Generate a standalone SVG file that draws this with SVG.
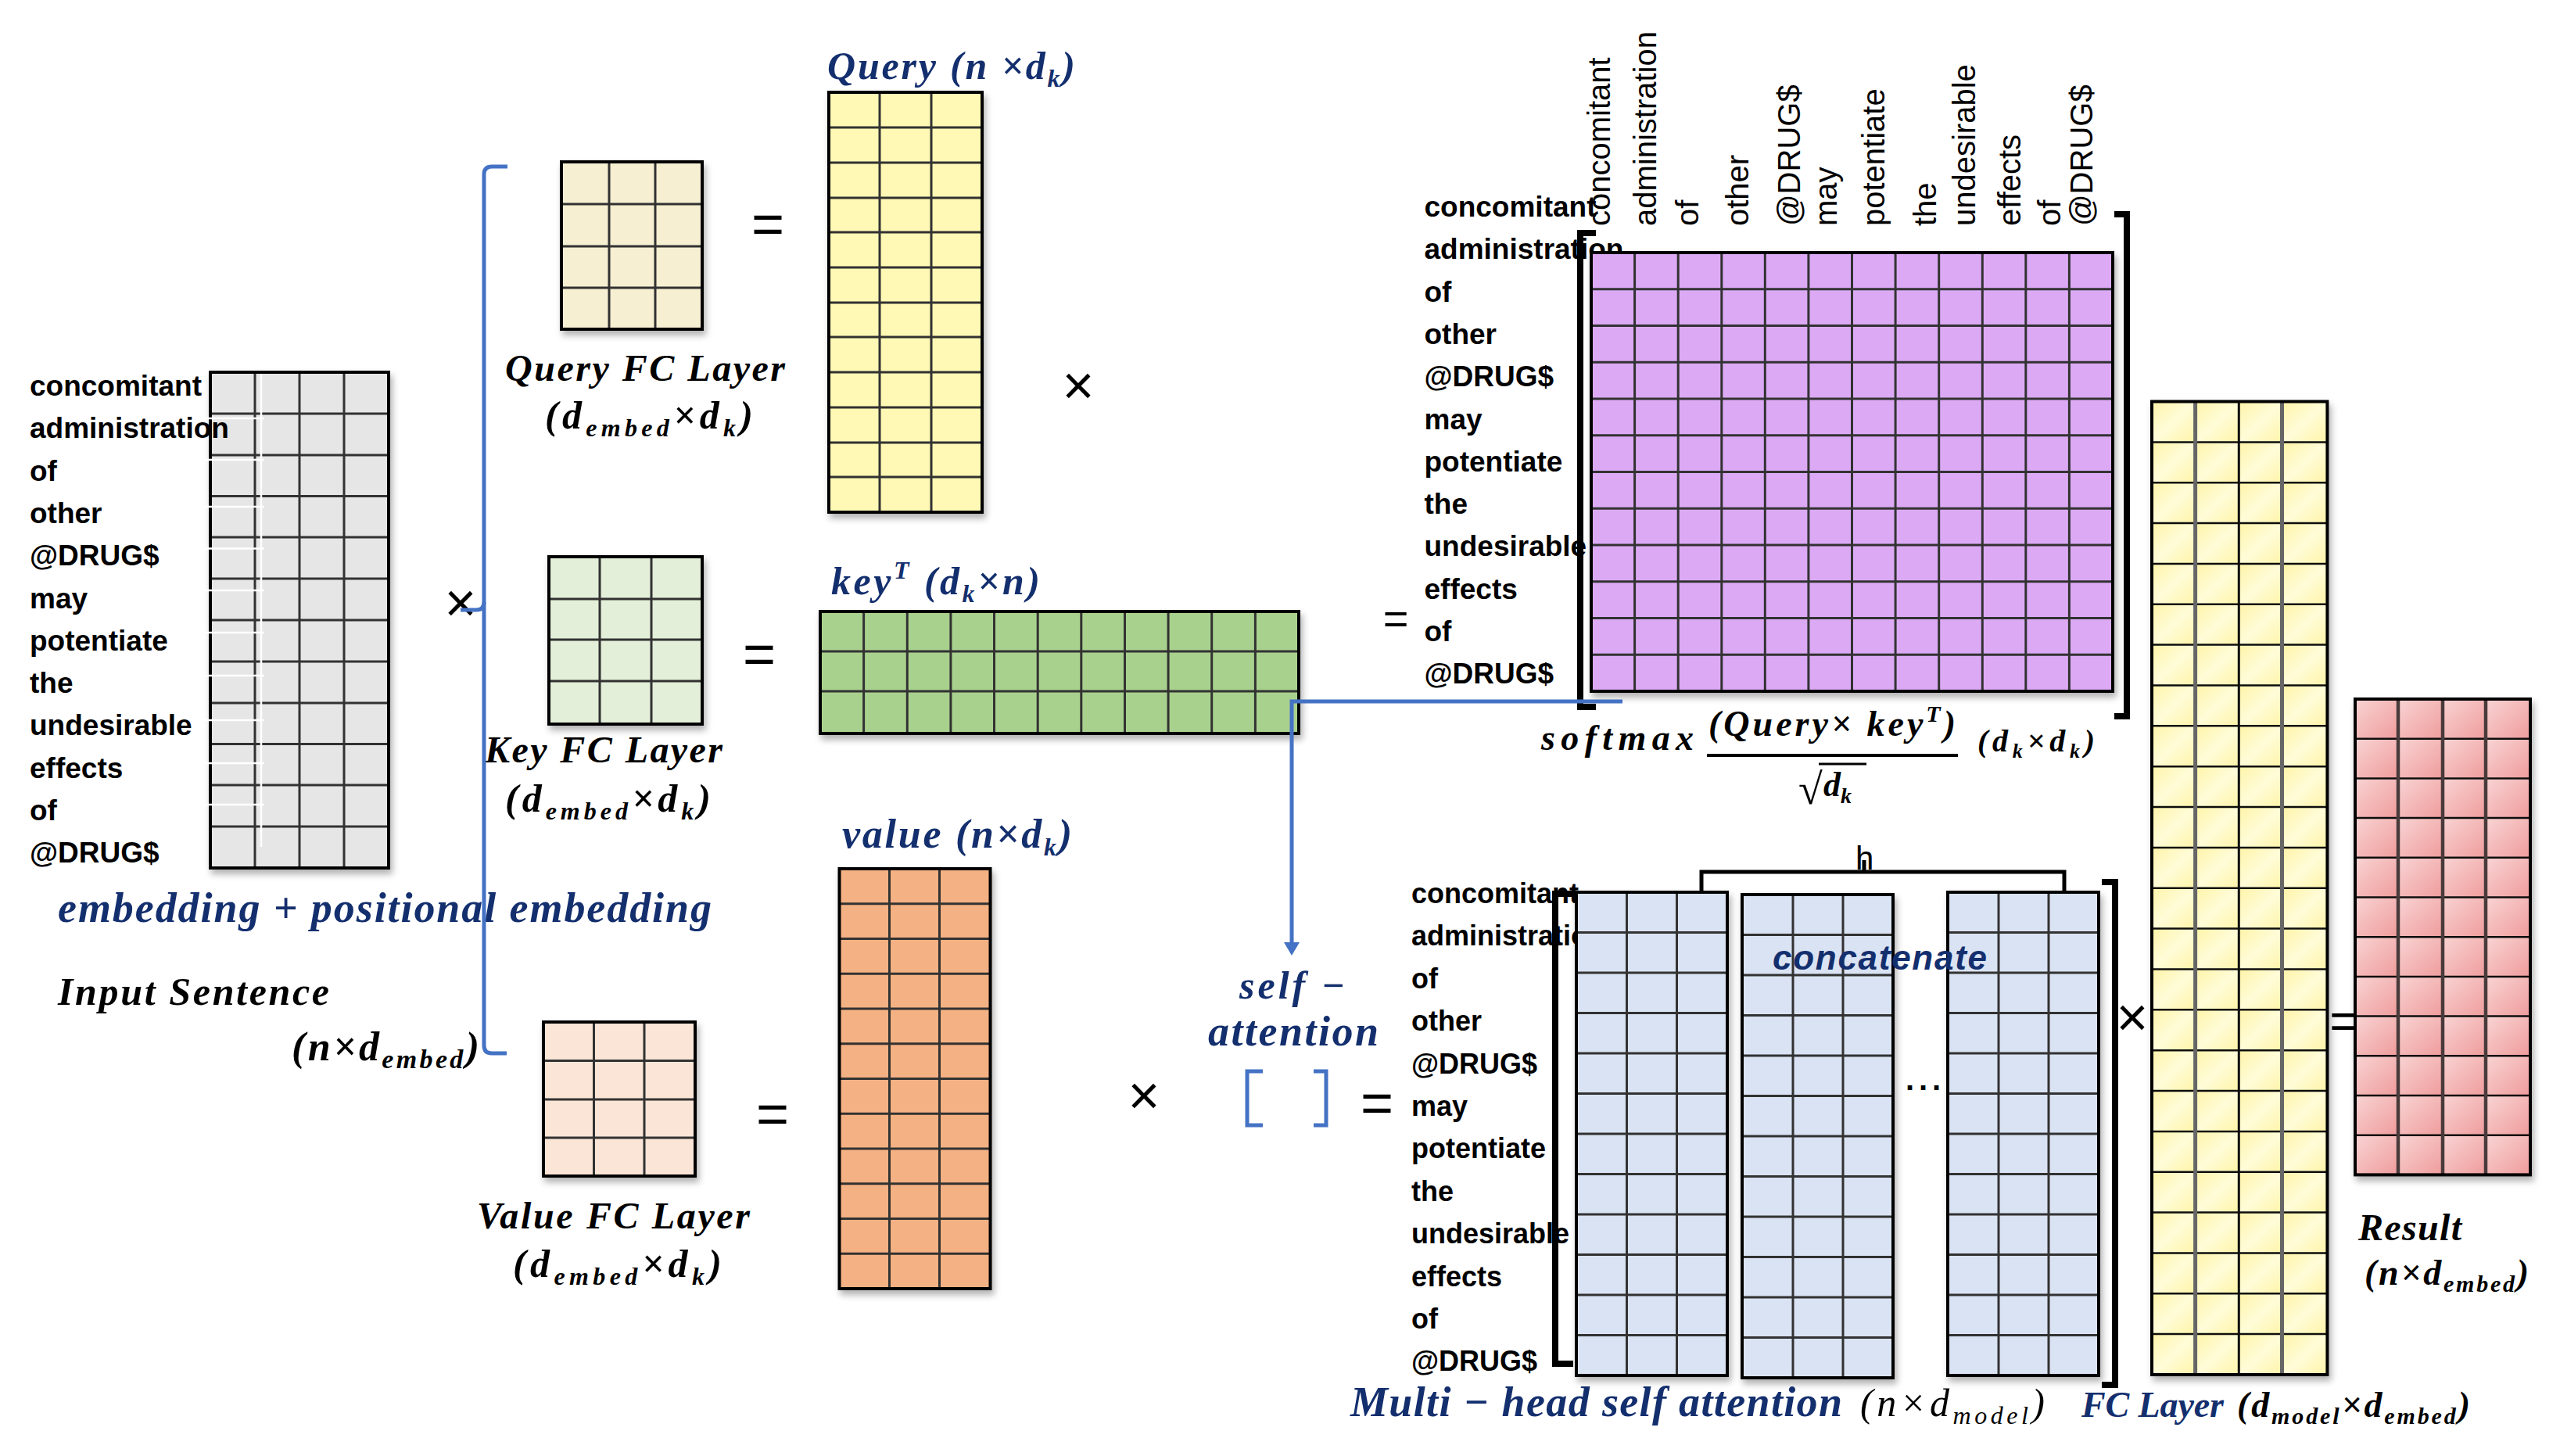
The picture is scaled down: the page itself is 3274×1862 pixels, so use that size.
<svg xmlns="http://www.w3.org/2000/svg" width="3274" height="1862" viewBox="0 0 3274 1862">
<defs>
<filter id="sh" x="-10%" y="-10%" width="130%" height="130%"><feDropShadow dx="3" dy="6" stdDeviation="4" flood-color="#000" flood-opacity="0.3"/></filter>
<marker id="arr" viewBox="0 0 17 20" markerWidth="17" markerHeight="20" refX="0" refY="10" orient="auto" markerUnits="userSpaceOnUse"><path d="M0,0 L17,10 L0,20 z" fill="#4472c4"/></marker>
<linearGradient id="pinkg" x1="0" y1="0" x2="1" y2="1"><stop offset="0" stop-color="#f9d3d3"/><stop offset="1" stop-color="#ef9c9c"/></linearGradient>
<pattern id="pinkp" patternUnits="userSpaceOnUse" x="3012" y="894" width="56" height="50.7"><rect width="56" height="50.7" fill="url(#pinkg)"/></pattern>
<linearGradient id="yelg" x1="0" y1="0" x2="1" y2="1"><stop offset="0" stop-color="#fff4a8"/><stop offset="0.5" stop-color="#fffcd8"/><stop offset="1" stop-color="#fff4a8"/></linearGradient>
<pattern id="yelp" patternUnits="userSpaceOnUse" x="2752" y="513.5" width="56" height="51.85"><rect width="56" height="51.85" fill="url(#yelg)"/></pattern>
</defs>
<style>
.w{font-family:"Liberation Sans",Arial,sans-serif;font-weight:bold;font-size:37px;fill:#000}
.wm{font-family:"Liberation Sans",Arial,sans-serif;font-weight:bold;font-size:36px;fill:#000}
.cl{font-family:"Liberation Sans",Arial,sans-serif;font-size:40px;fill:#000}
.m{font-family:"Liberation Serif","Times New Roman",serif;font-weight:bold;font-style:italic;fill:#000}
.mr{font-family:"Liberation Serif","Times New Roman",serif;font-style:italic;fill:#000}
.nv{fill:#142f6e}
.op{font-family:"Liberation Sans",Arial,sans-serif;text-anchor:middle;fill:#000}
.g{fill:none;stroke:#333;stroke-width:3}
.b{fill:none;stroke:#000;stroke-width:4}
.blue{fill:none;stroke:#4472c4;stroke-width:5}
.blk{fill:none;stroke:#000;stroke-width:8}
.wl{fill:none;stroke:#fff;stroke-width:2.5}
</style>
<rect width="3274" height="1862" fill="#fff"/>

<!-- Input sentence embedding matrix -->
<g id="input-matrix">
<g filter="url(#sh)">
<rect x="269" y="476" width="228" height="634" fill="#e6e6e6"/>
<path class="g" d="M326,476V1110M383,476V1110M440,476V1110M269,529H497M269,582H497M269,634.5H497M269,687H497M269,740H497M269,793H497M269,846H497M269,899H497M269,951.5H497M269,1004H497M269,1057H497"/>
<rect class="b" x="269" y="476" width="228" height="634"/>
</g>
<path class="wl" d="M261,535H338M261,588H338M261,648H338M261,701.5H338M261,755H338M261,809H338M261,864H338M261,921H338M261,976H338M261,1029H338M334,478V1083"/>
<g class="w">
<text x="38" y="506">concomitant</text>
<text x="38" y="560.3">administration</text>
<text x="38" y="614.6">of</text>
<text x="38" y="668.9">other</text>
<text x="38" y="723.2">@DRUG$</text>
<text x="38" y="777.5">may</text>
<text x="38" y="831.8">potentiate</text>
<text x="38" y="886.1">the</text>
<text x="38" y="940.4">undesirable</text>
<text x="38" y="994.7">effects</text>
<text x="38" y="1049">of</text>
<text x="38" y="1103.3">@DRUG$</text>
</g>
<text class="m nv" x="74" y="1179" font-size="54" textLength="836" lengthAdjust="spacing">embedding + positional embedding</text>
<text class="m" x="74" y="1285" font-size="50" textLength="347" lengthAdjust="spacing">Input Sentence</text>
<text class="m" x="373" y="1356" font-size="52" textLength="240" lengthAdjust="spacing">(n×d<tspan font-size="34" dy="10">embed</tspan><tspan dy="-10">)</tspan></text>
</g>

<!-- Query FC layer -->
<g id="query-fc">
<g filter="url(#sh)">
<rect x="718" y="207" width="180" height="214" fill="#f6efd2"/>
<path class="g" d="M779,207V421M838,207V421M718,261H898M718,315H898M718,368H898"/>
<rect class="b" x="718" y="207" width="180" height="214"/>
</g>
<text class="m" x="646" y="487" font-size="48" textLength="358" lengthAdjust="spacing">Query FC Layer</text>
<text class="m" x="697" y="548" font-size="50" textLength="266" lengthAdjust="spacing">(d<tspan font-size="32" dy="10">embed</tspan><tspan dy="-10">×d</tspan><tspan font-size="32" dy="10">k</tspan><tspan dy="-10">)</tspan></text>
</g>

<!-- Query matrix -->
<g id="query">
<g filter="url(#sh)">
<rect x="1060" y="118" width="196" height="537" fill="#fff9b5"/>
<path class="g" d="M1125,118V655M1191,118V655M1060,163H1256M1060,208H1256M1060,253H1256M1060,297H1256M1060,342H1256M1060,387H1256M1060,431H1256M1060,476H1256M1060,521H1256M1060,566H1256M1060,610H1256"/>
<rect class="b" x="1060" y="118" width="196" height="537"/>
</g>
<text class="m nv" x="1058" y="101" font-size="50" textLength="317" lengthAdjust="spacing">Query (n ×d<tspan font-size="32" dy="10">k</tspan><tspan dy="-10">)</tspan></text>
</g>

<!-- Key FC layer -->
<g id="key-fc">
<g filter="url(#sh)">
<rect x="702" y="712" width="196" height="214" fill="#e3efd9"/>
<path class="g" d="M767,712V926M833,712V926M702,766H898M702,818H898M702,871H898"/>
<rect class="b" x="702" y="712" width="196" height="214"/>
</g>
<text class="m" x="620" y="975" font-size="48" textLength="304" lengthAdjust="spacing">Key FC Layer</text>
<text class="m" x="646" y="1038" font-size="50" textLength="263" lengthAdjust="spacing">(d<tspan font-size="32" dy="10">embed</tspan><tspan dy="-10">×d</tspan><tspan font-size="32" dy="10">k</tspan><tspan dy="-10">)</tspan></text>
</g>

<!-- Key transposed -->
<g id="key-t">
<g filter="url(#sh)">
<rect x="1049" y="782" width="612" height="156" fill="#a9d18e"/>
<path class="g" d="M1104.6,782V938M1160.3,782V938M1215.9,782V938M1271.5,782V938M1327.2,782V938M1382.8,782V938M1438.5,782V938M1494.1,782V938M1549.7,782V938M1605.4,782V938M1049,833H1661M1049,884H1661"/>
<rect class="b" x="1049" y="782" width="612" height="156"/>
</g>
<text class="m nv" x="1063" y="760" font-size="50" textLength="267" lengthAdjust="spacing">key<tspan font-size="32" dy="-20">T</tspan><tspan dy="20"> (d</tspan><tspan font-size="32" dy="10">k</tspan><tspan dy="-10">×n)</tspan></text>
</g>

<!-- Value FC layer -->
<g id="value-fc">
<g filter="url(#sh)">
<rect x="695" y="1307" width="194" height="197" fill="#fbe5d6"/>
<path class="g" d="M759.5,1307V1504M824,1307V1504M695,1356.5H889M695,1406H889M695,1455H889"/>
<rect class="b" x="695" y="1307" width="194" height="197"/>
</g>
<text class="m" x="610" y="1571" font-size="48" textLength="349" lengthAdjust="spacing">Value FC Layer</text>
<text class="m" x="656" y="1633" font-size="50" textLength="267" lengthAdjust="spacing">(d<tspan font-size="32" dy="10">embed</tspan><tspan dy="-10">×d</tspan><tspan font-size="32" dy="10">k</tspan><tspan dy="-10">)</tspan></text>
</g>

<!-- Value matrix -->
<g id="value">
<g filter="url(#sh)">
<rect x="1073.5" y="1111" width="193" height="537" fill="#f4b183"/>
<path class="g" d="M1137.5,1111V1648M1201.5,1111V1648M1073.5,1155.75H1266.5M1073.5,1200.5H1266.5M1073.5,1245.25H1266.5M1073.5,1290H1266.5M1073.5,1334.75H1266.5M1073.5,1379.5H1266.5M1073.5,1424.25H1266.5M1073.5,1469H1266.5M1073.5,1513.75H1266.5M1073.5,1558.5H1266.5M1073.5,1603.25H1266.5"/>
<rect class="b" x="1073.5" y="1111" width="193" height="537"/>
</g>
<text class="m nv" x="1077" y="1084" font-size="52" textLength="294" lengthAdjust="spacing">value (n×d<tspan font-size="32" dy="10">k</tspan><tspan dy="-10">)</tspan></text>
</g>

<!-- Softmax attention matrix -->
<g id="softmax">
<g class="w">
<text x="1821.5" y="277">concomitant</text>
<text x="1821.5" y="331.3">administration</text>
<text x="1821.5" y="385.6">of</text>
<text x="1821.5" y="439.9">other</text>
<text x="1821.5" y="494.2">@DRUG$</text>
<text x="1821.5" y="548.5">may</text>
<text x="1821.5" y="602.8">potentiate</text>
<text x="1821.5" y="657.1">the</text>
<text x="1821.5" y="711.4">undesirable</text>
<text x="1821.5" y="765.7">effects</text>
<text x="1821.5" y="820">of</text>
<text x="1821.5" y="874.3">@DRUG$</text>
</g>
<g class="cl">
<text transform="translate(2059,289) rotate(-90)">concomitant</text>
<text transform="translate(2118,289) rotate(-90)">administration</text>
<text transform="translate(2172,289) rotate(-90)">of</text>
<text transform="translate(2236,289) rotate(-90)">other</text>
<text transform="translate(2302,289) rotate(-90)">@DRUG$</text>
<text transform="translate(2349,289) rotate(-90)">may</text>
<text transform="translate(2410,289) rotate(-90)">potentiate</text>
<text transform="translate(2476,289) rotate(-90)">the</text>
<text transform="translate(2526,289) rotate(-90)">undesirable</text>
<text transform="translate(2584,289) rotate(-90)">effects</text>
<text transform="translate(2635,289) rotate(-90)">of</text>
<text transform="translate(2676,289) rotate(-90)">@DRUG$</text>
</g>
<g filter="url(#sh)">
<rect x="2035" y="323" width="667" height="561" fill="#dcaaf5"/>
<path class="g" d="M2090.6,323V884M2146.2,323V884M2201.8,323V884M2257.3,323V884M2312.9,323V884M2368.5,323V884M2424.1,323V884M2479.7,323V884M2535.3,323V884M2590.8,323V884M2646.4,323V884M2035,369.75H2702M2035,416.5H2702M2035,463.25H2702M2035,510H2702M2035,556.75H2702M2035,603.5H2702M2035,650.25H2702M2035,697H2702M2035,743.75H2702M2035,790.5H2702M2035,837.25H2702"/>
<rect class="b" x="2035" y="323" width="667" height="561"/>
</g>
<path class="blk" d="M2041,298H2021V904H2041"/>
<path class="blk" d="M2704,274H2720V916H2704"/>
<text class="m" x="1971" y="959" font-size="46" textLength="195" lengthAdjust="spacing">softmax</text>
<text class="m" x="2185" y="941" font-size="46" textLength="316" lengthAdjust="spacing">(Query× key<tspan font-size="30" dy="-18">T</tspan><tspan dy="18">)</tspan></text>
<line x1="2183" y1="966" x2="2504" y2="966" stroke="#000" stroke-width="4"/>
<text x="2300" y="1028" font-family="Liberation Serif, Times New Roman, serif" font-size="56">√</text>
<line x1="2326" y1="977" x2="2387" y2="977" stroke="#000" stroke-width="3"/>
<text class="m" x="2332" y="1018" font-size="44">d<tspan font-size="28" dy="9">k</tspan></text>
<text class="m" x="2529" y="961" font-size="40" textLength="150" lengthAdjust="spacing">(d<tspan font-size="26" dy="8">k</tspan><tspan dy="-8">×d</tspan><tspan font-size="26" dy="8">k</tspan><tspan dy="-8">)</tspan></text>
</g>

<!-- Self-attention symbol -->
<g id="self-attention">
<text class="m nv" x="1585" y="1277" font-size="50" textLength="135" lengthAdjust="spacing">self −</text>
<text class="m nv" x="1545" y="1337" font-size="54" textLength="218" lengthAdjust="spacing">attention</text>
<path class="blue" stroke-width="6" d="M1615,1370H1595V1439H1615"/>
<path class="blue" stroke-width="6" d="M1680,1370H1696V1439H1680"/>
</g>

<!-- Multi-head self attention -->
<g id="multi-head">
<g class="wm">
<text x="1805" y="1155">concomitant</text>
<text x="1805" y="1209.4">administration</text>
<text x="1805" y="1263.8">of</text>
<text x="1805" y="1318.2">other</text>
<text x="1805" y="1372.6">@DRUG$</text>
<text x="1805" y="1427">may</text>
<text x="1805" y="1481.4">potentiate</text>
<text x="1805" y="1535.8">the</text>
<text x="1805" y="1590.2">undesirable</text>
<text x="1805" y="1644.6">effects</text>
<text x="1805" y="1699">of</text>
<text x="1805" y="1753.4">@DRUG$</text>
</g>
<g filter="url(#sh)">
<rect x="2016" y="1141" width="193" height="618" fill="#dae3f3"/>
<path class="g" d="M2080.5,1141V1759M2144.5,1141V1759M2016,1192.5H2209M2016,1244H2209M2016,1295.5H2209M2016,1347H2209M2016,1398.5H2209M2016,1450H2209M2016,1501.5H2209M2016,1553H2209M2016,1604.5H2209M2016,1656H2209M2016,1707.5H2209"/>
<rect class="b" x="2016" y="1141" width="193" height="618"/>
</g>
<g filter="url(#sh)">
<rect x="2228" y="1144" width="193" height="618" fill="#dae3f3"/>
<path class="g" d="M2293,1144V1762M2357,1144V1762M2228,1195.5H2421M2228,1247H2421M2228,1298.5H2421M2228,1350H2421M2228,1401.5H2421M2228,1453H2421M2228,1504.5H2421M2228,1556H2421M2228,1607.5H2421M2228,1659H2421M2228,1710.5H2421"/>
<rect class="b" x="2228" y="1144" width="193" height="618"/>
</g>
<g filter="url(#sh)">
<rect x="2491" y="1141" width="193" height="618" fill="#dae3f3"/>
<path class="g" d="M2556,1141V1759M2620,1141V1759M2491,1192.5H2684M2491,1244H2684M2491,1295.5H2684M2491,1347H2684M2491,1398.5H2684M2491,1450H2684M2491,1501.5H2684M2491,1553H2684M2491,1604.5H2684M2491,1656H2684M2491,1707.5H2684"/>
<rect class="b" x="2491" y="1141" width="193" height="618"/>
</g>
<path class="blk" d="M2012,1143H1989V1744H2012"/>
<path class="blk" d="M2688,1128H2705V1771H2688"/>
<path fill="none" stroke="#000" stroke-width="5" d="M2176,1142V1115H2640V1142M2384,1115V1100"/>
<text x="2373" y="1112" font-family="Liberation Sans, Arial, sans-serif" font-size="42">h</text>
<text x="2267" y="1240" font-family="Liberation Sans, Arial, sans-serif" font-weight="bold" font-style="italic" font-size="44" fill="#142f6e" textLength="274" lengthAdjust="spacing">concatenate</text>
<text x="2437" y="1394" font-family="Liberation Sans, Arial, sans-serif" font-weight="bold" font-size="40" textLength="45" lengthAdjust="spacing">...</text>
<text class="m nv" x="1727" y="1811" font-size="54" textLength="629" lengthAdjust="spacing">Multi − head self attention</text>
<text class="mr" x="2379" y="1811" font-size="50" textLength="236" lengthAdjust="spacing">(n×d<tspan font-size="32" dy="10">model</tspan><tspan dy="-10">)</tspan></text>
</g>

<!-- Output FC layer -->
<g id="fc-layer">
<g filter="url(#sh)">
<rect x="2752" y="513.5" width="224.4" height="1244.5" fill="url(#yelp)"/>
<path fill="none" stroke="#111" stroke-width="2.5" d="M2752,565.4H2976.4M2752,617.2H2976.4M2752,669.1H2976.4M2752,720.9H2976.4M2752,772.8H2976.4M2752,824.6H2976.4M2752,876.5H2976.4M2752,928.3H2976.4M2752,980.2H2976.4M2752,1032H2976.4M2752,1083.9H2976.4M2752,1135.8H2976.4M2752,1187.6H2976.4M2752,1239.5H2976.4M2752,1291.3H2976.4M2752,1343.2H2976.4M2752,1395H2976.4M2752,1446.9H2976.4M2752,1498.7H2976.4M2752,1550.6H2976.4M2752,1602.4H2976.4M2752,1654.3H2976.4M2752,1706.1H2976.4"/>
<path fill="none" stroke="#666" stroke-width="5" d="M2807.6,513.5V1758M2918.5,513.5V1758"/>
<path fill="none" stroke="#111" stroke-width="3" d="M2863.3,513.5V1758"/>
<rect class="b" x="2752" y="513.5" width="224.4" height="1244.5"/>
</g>
<text class="m nv" x="2662" y="1812" font-size="46" textLength="182" lengthAdjust="spacing">FC Layer</text>
<text class="m" x="2861" y="1812" font-size="46" textLength="298" lengthAdjust="spacing">(d<tspan font-size="30" dy="9">model</tspan><tspan dy="-9">×d</tspan><tspan font-size="30" dy="9">embed</tspan><tspan dy="-9">)</tspan></text>
</g>

<!-- Result matrix -->
<g id="result">
<g filter="url(#sh)">
<rect x="3012" y="894" width="224" height="608.4" fill="url(#pinkp)"/>
<path fill="none" stroke="#111" stroke-width="2.5" d="M3012,944.7H3236M3012,995.4H3236M3012,1046.1H3236M3012,1096.8H3236M3012,1147.5H3236M3012,1198.2H3236M3012,1248.9H3236M3012,1299.6H3236M3012,1350.3H3236M3012,1401H3236M3012,1451.7H3236"/>
<path fill="none" stroke="#4a3a3a" stroke-width="4.5" d="M3067,894V1502.4M3124,894V1502.4M3179,894V1502.4"/>
<rect class="b" x="3012" y="894" width="224" height="608.4"/>
</g>
<text class="m" x="3016" y="1586" font-size="48" textLength="132" lengthAdjust="spacing">Result</text>
<text class="m" x="3024" y="1643" font-size="46" textLength="210" lengthAdjust="spacing">(n×d<tspan font-size="30" dy="9">embed</tspan><tspan dy="-9">)</tspan></text>
</g>

<!-- Operators -->
<g id="operators">
<text class="op" x="589" y="795" font-size="70">×</text>
<text class="op" x="1379" y="517" font-size="70">×</text>
<text class="op" x="1463" y="1425" font-size="70">×</text>
<text class="op" x="2727" y="1325" font-size="70">×</text>
<text class="op" x="982" y="311" font-size="72">=</text>
<text class="op" x="971" y="861" font-size="72">=</text>
<text class="op" x="988" y="1449" font-size="72">=</text>
<text class="op" x="1785" y="810" font-size="56">=</text>
<text class="op" x="1761" y="1435" font-size="72">=</text>
<text class="op" x="2998" y="1328" font-size="64">=</text>
</g>

<!-- Blue brace grouping the three FC layers -->
<g id="fc-brace">
<path class="blue" d="M649,213H629Q619,213 619,223V1337Q619,1347 629,1347H648"/>
<path class="blue" d="M619,770Q619,780 609,780H589"/>
</g>

<!-- Connectors -->
<g id="connectors">
<path class="blue" d="M2075,897H1652V1205" marker-end="url(#arr)"/>
</g>
</svg>
